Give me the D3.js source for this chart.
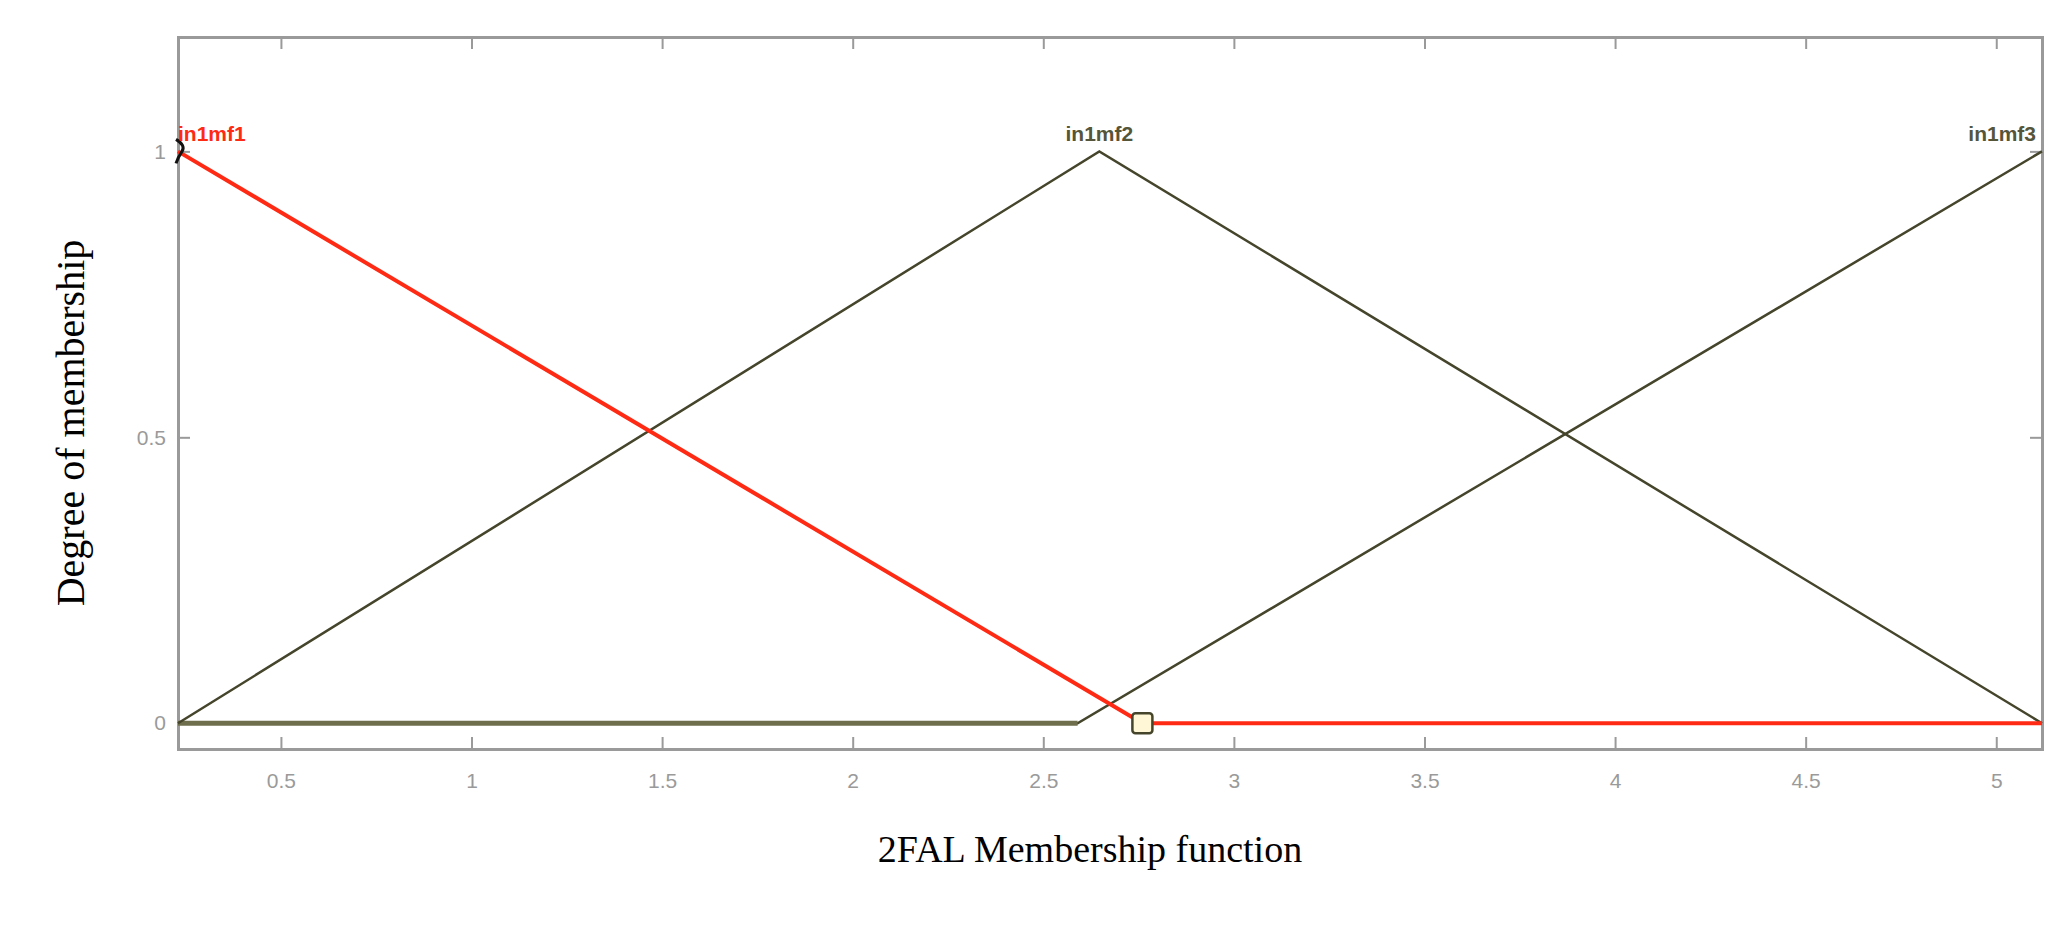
<!DOCTYPE html>
<html><head><meta charset="utf-8">
<script src="https://cdn.jsdelivr.net/npm/d3@7"></script>
<style>body{margin:0;background:#fff}</style>
</head><body>
<svg id="chart" width="2068" height="932"></svg>
<script>
// membership functions
let xDomain = [0.23, 5.12]
let yDomain = [-0.045, 1.2]
let xTicks = [0.5, 1, 1.5, 2, 2.5, 3, 3.5, 4, 4.5, 5]
let yTicks = [0, 0.5, 1]
let mfNames = ["in1mf1", "in1mf2", "in1mf3"]
let mf1 = [[0.23, 1], [2.76, 0], [5.12, 0]]
let mf2 = [[0.23, 0], [2.647, 1], [5.12, 0]]
let mf3 = [[0.23, 0], [2.59, 0], [5.12, 1]]
let labelX = [0.23, 2.647, 5.12]

var svg = d3.select("#chart")
let padLeft = 178, padRight = 2042, padTop = 37, padBottom = 749

let x = d3.scaleLinear().domain(xDomain).range([padLeft, padRight])
let y = d3.scaleLinear().domain(yDomain).range([padBottom, padTop])

let olive = "#45452c"
let red = "#ff2a14"
let grey = "#9a9a9a"

// ticks on all four sides, pointing inward
svg.append("g").attr("transform", `translate(0,${padBottom})`)
    .call(d3.axisBottom(x).tickValues(xTicks).tickSize(-12).tickPadding(24).tickFormat(d3.format("")))
svg.append("g").attr("transform", `translate(0,${padTop})`)
    .call(d3.axisTop(x).tickValues(xTicks).tickSize(-12).tickFormat(""))
svg.append("g").attr("transform", `translate(${padLeft},0)`)
    .call(d3.axisLeft(y).tickValues(yTicks).tickSize(-12).tickPadding(12).tickFormat(d3.format("")))
svg.append("g").attr("transform", `translate(${padRight},0)`)
    .call(d3.axisRight(y).tickValues(yTicks).tickSize(-12).tickFormat(""))

svg.selectAll(".domain").attr("stroke", grey).attr("stroke-width", 3)
svg.selectAll(".tick line").attr("stroke", grey).attr("stroke-width", 2)
svg.selectAll(".tick text").attr("fill", grey).attr("font-size", 21)
    .attr("font-family", "Liberation Sans, Arial, sans-serif")

let line = d3.line().x(d => x(d[0])).y(d => y(d[1]))

svg.append("path").datum(mf3).attr("d", line).attr("fill", "none")
    .attr("stroke", olive).attr("stroke-width", 2.5)
svg.append("path").datum(mf3.slice(0, 2)).attr("d", line).attr("fill", "none")
    .attr("stroke", "#6e6e4c").attr("stroke-width", 5)
svg.append("path").datum(mf2).attr("d", line).attr("fill", "none")
    .attr("stroke", olive).attr("stroke-width", 2.5)
svg.append("path").datum(mf1).attr("d", line).attr("fill", "none")
    .attr("stroke", red).attr("stroke-width", 4)

// handle markers
svg.append("rect").attr("x", x(mf1[1][0]) - 10).attr("y", y(0) - 10)
    .attr("width", 20).attr("height", 20).attr("rx", 3)
    .attr("fill", "#fff7d6").attr("stroke", olive).attr("stroke-width", 2.5)
svg.append("path")
    .attr("d", `M${x(xDomain[0]) - 2},${y(1) - 12} q10,6 6,12 q-4,6 -6,12`)
    .attr("fill", "none").attr("stroke", "#111").attr("stroke-width", 3)

// mf labels
svg.selectAll(".mflabel").data(mfNames).join("text")
    .attr("class", "mflabel")
    .attr("x", (d, i) => x(labelX[i]))
    .attr("y", 141)
    .attr("text-anchor", (d, i) => i == 0 ? "start" : i == 1 ? "middle" : "end")
    .attr("fill", (d, i) => i == 0 ? red : "#55553a")
    .attr("font-weight", "bold")
    .attr("font-size", 21)
    .attr("font-family", "Liberation Sans, Arial, sans-serif")
    .attr("dx", (d, i) => i == 2 ? -6 : 0)
    .text(d => d)

// axis titles
svg.append("text").attr("x", (padLeft + padRight) / 2 - 20).attr("y", 862)
    .attr("text-anchor", "middle").attr("font-size", 38)
    .attr("font-family", "Liberation Serif, Times New Roman, serif")
    .text("2FAL Membership function")
svg.append("text").attr("transform", `translate(84,${(padTop + padBottom) / 2 + 30}) rotate(-90)`)
    .attr("text-anchor", "middle").attr("font-size", 40)
    .attr("font-family", "Liberation Serif, Times New Roman, serif")
    .text("Degree of membership")
</script>
</body></html>
